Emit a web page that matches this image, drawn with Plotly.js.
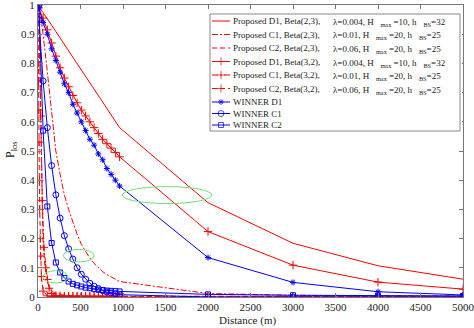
<!DOCTYPE html>
<html>
<head>
<meta charset="utf-8">
<script src="https://cdn.plot.ly/plotly-3.0.1.min.js"></script>
<style>html,body{margin:0;padding:0;background:#fff;}#chart{width:474px;height:328px;}</style>
</head>
<body>
<div id="chart"></div>
<script>
// Distance grid (m)
var dist = [10,60,110,160,210,260,310,360,410,460,510,560,610,660,710,760,810,860,910,960,2000,3000,4000,5000];

// WINNER models
var winnerD1 = [0.99,0.94,0.90,0.85,0.81,0.77,0.73,0.70,0.66,0.63,0.60,0.57,0.54,0.52,0.49,0.47,0.44,0.42,0.40,0.38,0.135,0.05,0.018,0.007];
var winnerC1 = [0.95,0.74,0.58,0.45,0.35,0.27,0.21,0.165,0.13,0.10,0.078,0.061,0.047,0.037,0.029,0.022,0.017,0.014,0.011,0.008,0.0,0.0,0.0,0.0];
var winnerC2 = [1.0,0.57,0.31,0.185,0.118,0.084,0.065,0.053,0.045,0.040,0.036,0.032,0.030,0.027,0.025,0.024,0.022,0.021,0.020,0.019,0.009,0.006,0.0045,0.0036];

// Proposed models on the common grid
var propD1a = [0.995,0.975,0.953,0.931,0.909,0.887,0.865,0.843,0.821,0.80,0.778,0.756,0.734,0.712,0.69,0.668,0.646,0.624,0.602,0.58,0.323,0.184,0.107,0.061];
var propD1b = [0.99,0.955,0.915,0.87,0.825,0.785,0.75,0.72,0.69,0.665,0.64,0.62,0.60,0.58,0.56,0.54,0.525,0.51,0.495,0.48,0.224,0.109,0.051,0.027];
var propC1a = [1.0,0.90,0.77,0.64,0.50,0.42,0.35,0.30,0.255,0.215,0.18,0.155,0.133,0.115,0.10,0.087,0.077,0.068,0.06,0.053,0.012,0.006,0.004,0.003];

// Proposed steep models (own distance samples)
var distC2a = [10,20,30,40,50,60,80,100,120,140,160,210,260,310,410,510,710,960,2000,3000,4000,5000];
var propC2a = [1.0,0.85,0.65,0.45,0.28,0.18,0.11,0.07,0.045,0.03,0.02,0.012,0.008,0.006,0.004,0.003,0.002,0.0015,0.0008,0.0005,0.0003,0.0002];
var distC1b = [10,30,50,70,90,110,130,160,210,260,310,360,410,460,510,560,610,660,710,760,810,860,910,960,2000,3000,4000,5000];
var propC1b = [1.0,0.62,0.33,0.17,0.10,0.06,0.03,0.012,0.005,0.004,0.003,0.003,0.003,0.003,0.003,0.003,0.003,0.003,0.003,0.003,0.003,0.003,0.003,0.003,0.002,0.002,0.002,0.002];
var distC2b = [0,3,6,9,12,16,20,25,30,40,60,110,160,210,260,310,360,410,460,510,560,610,660,710,760,810,860,910,960,2000,3000,4000,5000];
var propC2b = [1.0,0.80,0.74,0.64,0.53,0.40,0.30,0.20,0.14,0.07,0.02,0.004,0.002,0.001,0.001,0.001,0.001,0.001,0.001,0.001,0.001,0.001,0.001,0.001,0.001,0.001,0.001,0.001,0.001,0.0005,0.0005,0.0005,0.0005];

// Legend texts (two columns)
var legendCol1 = ['Proposed D1, Beta(2,3),','Proposed C1, Beta(2,3),','Proposed C2, Beta(2,3),',
                  'Proposed D1, Beta(3,2),','Proposed C1, Beta(3,2),','Proposed C2, Beta(3,2),',
                  'WINNER D1','WINNER C1','WINNER C2'];
var lambdas = ['0.004','0.01','0.06','0.004','0.01','0.06'];
var hMax = ['10','20','20','10','20','20'];
var hBS = ['32','25','25','32','25','25'];

var xTicks = [0,500,1000,1500,2000,2500,3000,3500,4000,4500,5000];
var xTickText = ['0','500','1000','1500','2000','2500','3000','3500','4000','4500','5000'];
var yTicks = [0,0.1,0.2,0.3,0.4,0.5,0.6,0.7,0.8,0.9,1];
var yTickText = ['0','0.1','0.2','0.3','0.4','0.5','0.6','0.7','0.8','0.9','1'];

// ---- styles ----
var RED = 'rgb(255,0,0)';
var BLUE = 'rgb(0,0,255)';
var GREEN = 'rgb(110,225,110)';
var FONT = 'Liberation Serif';
var DASH = '5px,3px';
var DASHDOT = '6px,2px,2px,2px';
var cross = {symbol: 'cross-thin-open', size: 6, color: RED, line: {color: RED, width: 1}};

var series = [
  {x: dist, y: propD1a, line: {color: RED, width: 1}, marker: null},
  {x: dist, y: propC1a, line: {color: RED, width: 1, dash: DASHDOT}, marker: null},
  {x: distC2a, y: propC2a, line: {color: RED, width: 1, dash: DASH}, marker: null},
  {x: dist, y: propD1b, line: {color: RED, width: 1}, marker: cross},
  {x: distC1b, y: propC1b, line: {color: RED, width: 1, dash: DASHDOT}, marker: cross},
  {x: distC2b, y: propC2b, line: {color: RED, width: 1, dash: DASH}, marker: cross},
  {x: dist, y: winnerD1, line: {color: BLUE, width: 1}, marker: {symbol: 'asterisk-open', size: 5, color: BLUE, line: {color: BLUE, width: 1}}},
  {x: dist, y: winnerC1, line: {color: BLUE, width: 1}, marker: {symbol: 'circle-open', size: 6, color: BLUE, line: {color: BLUE, width: 1}}},
  {x: dist, y: winnerC2, line: {color: BLUE, width: 1}, marker: {symbol: 'square-open', size: 5, color: BLUE, line: {color: BLUE, width: 1}}}
];

var traces = series.map(function (s) {
  var t = {x: s.x, y: s.y, xaxis: 'x', yaxis: 'y', showlegend: false,
           mode: s.marker ? 'lines+markers' : 'lines', line: s.line};
  if (s.marker) t.marker = s.marker;
  return t;
});

// ---- hand-built legend (compact rows like the original) ----
var PL = 38, PR = 463, PT = 5, PB = 297;           // plot area in px
function px2paperX(px) { return (px - PL) / (PR - PL); }
function px2paperY(py) { return (PB - py) / (PB - PT); }
var LB = {l: 208, r: 462, t: 12, b: 132};          // legend axes area in px
function lx(px) { return (px - LB.l) / (LB.r - LB.l); }
function ly(py) { return (LB.b - py) / (LB.b - LB.t); }
var legendRowsPx = [21, 34.5, 48, 61.5, 75, 88.5, 102, 113.5, 125];

traces.push({x: [lx(210), lx(460), lx(460), lx(210), lx(210)], y: [ly(131), ly(131), ly(14), ly(14), ly(131)],
  xaxis: 'x2', yaxis: 'y2', mode: 'lines', fill: 'toself', fillcolor: '#fff',
  line: {color: '#888', width: 1}, showlegend: false, hoverinfo: 'skip'});

series.forEach(function (s, i) {
  var r = ly(legendRowsPx[i]);
  var t = {x: [lx(212), lx(221), lx(230)], y: [r, r, r], xaxis: 'x2', yaxis: 'y2', showlegend: false,
           hoverinfo: 'skip', mode: s.marker ? 'lines+markers' : 'lines', line: s.line};
  if (s.marker) t.marker = Object.assign({}, s.marker, {size: [0, s.marker.size, 0]});
  traces.push(t);
});

var NB = '\u00a0';
var annotations = [];
legendCol1.forEach(function (txt, i) {
  annotations.push({text: txt, xref: 'paper', yref: 'paper', x: px2paperX(232), y: px2paperY(legendRowsPx[i]),
    xanchor: 'left', yanchor: 'middle', showarrow: false, borderpad: 0,
    font: {family: FONT, size: 9, color: '#222'}});
});
lambdas.forEach(function (lam, i) {
  var txt = 'λ=' + lam + ', H' + NB + NB + NB + '<sub>max</sub>' + NB + '=' + hMax[i] + ', h' + NB + NB + NB + '<sub>BS</sub>=' + hBS[i];
  annotations.push({text: txt, xref: 'paper', yref: 'paper', x: px2paperX(332), y: px2paperY(legendRowsPx[i] + 1.5),
    xanchor: 'left', yanchor: 'middle', showarrow: false, borderpad: 0,
    font: {family: FONT, size: 9, color: '#222'}});
});
annotations.push({text: 'Distance (m)', xref: 'paper', yref: 'paper', x: px2paperX(247), y: px2paperY(321),
  xanchor: 'center', yanchor: 'middle', showarrow: false, font: {family: FONT, size: 11, color: '#222'}});
annotations.push({text: 'P<sub>los</sub>', xref: 'paper', yref: 'paper', x: px2paperX(11), y: px2paperY(150),
  xanchor: 'center', yanchor: 'middle', textangle: -90, showarrow: false, font: {family: FONT, size: 12, color: '#222'}});

var axisCommon = {
  showgrid: false, zeroline: false, showline: true, mirror: 'ticks',
  ticks: 'inside', ticklen: 4, tickwidth: 1, linecolor: '#777', tickcolor: '#777', linewidth: 1,
  tickfont: {family: FONT, size: 11, color: '#222'}, tickmode: 'array', ticklabeloverflow: 'allow'
};

var layout = {
  width: 474, height: 328,
  margin: {l: PL, r: 474 - PR, t: PT, b: 328 - PB, pad: 0},
  paper_bgcolor: '#fff', plot_bgcolor: '#fff',
  font: {family: FONT, color: '#222'},
  showlegend: false,
  xaxis: Object.assign({}, axisCommon, {range: [0, 5000], tickvals: xTicks, ticktext: xTickText}),
  yaxis: Object.assign({}, axisCommon, {range: [0, 1], tickvals: yTicks, ticktext: yTickText}),
  xaxis2: {domain: [px2paperX(LB.l), px2paperX(LB.r)], range: [0, 1], visible: false, anchor: 'y2', fixedrange: true},
  yaxis2: {domain: [px2paperY(LB.b), px2paperY(LB.t)], range: [0, 1], visible: false, anchor: 'x2', fixedrange: true},
  shapes: [
    {type: 'circle', xref: 'x', yref: 'y', x0: 992, x1: 2046, y0: 0.32, y1: 0.378, line: {color: GREEN, width: 1}},
    {type: 'circle', xref: 'x', yref: 'y', x0: 299, x1: 661, y0: 0.12, y1: 0.163, line: {color: GREEN, width: 1}},
    {type: 'circle', xref: 'x', yref: 'y', x0: 56, x1: 354, y0: 0.048, y1: 0.09, line: {color: GREEN, width: 1}}
  ],
  annotations: annotations
};

Plotly.newPlot('chart', traces, layout, {displayModeBar: false, staticPlot: true});
</script>
</body>
</html>
